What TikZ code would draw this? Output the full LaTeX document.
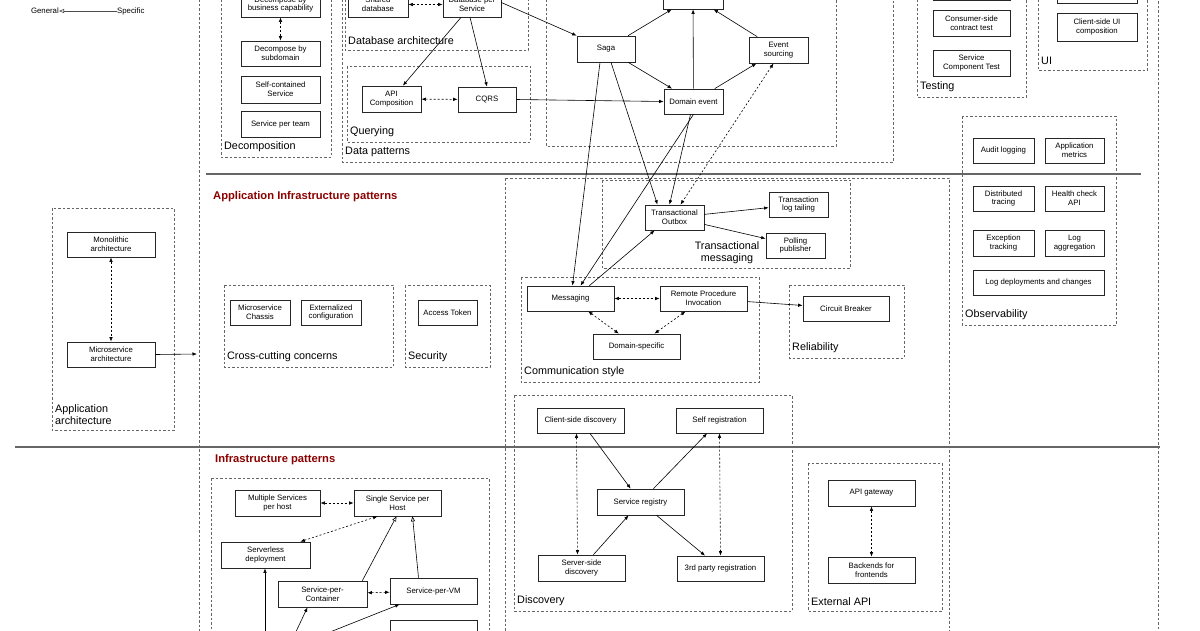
\documentclass[tikz,border=0pt]{standalone}
\usepackage{fontspec}
\setmainfont{Liberation Sans}
\usetikzlibrary{arrows.meta,shadows}
\newcommand\bx[6]{\node[box,minimum width={(#4-#2)*1pt},minimum height={(#5-#3)*1pt}] (#1) at ({(#2+#4)/2},{(#3+#5)/2}) {#6};}
\newcommand\frm[5]{\draw[frame] (#1,#2) rectangle (#3,#4);\node[flab] at (#1+2,#4-4) {#5};}
\begin{document}
\begin{tikzpicture}[x=1pt,y=-1pt,
  box/.style={draw=black!85,fill=white,line width=0.7pt,inner sep=1pt,align=center,font=\fontsize{7.8}{8.8}\selectfont,drop shadow={shadow xshift=0.9pt,shadow yshift=-0.9pt,opacity=0.35}},
  frame/.style={draw=black!60,dash pattern=on 2.5pt off 2pt,line width=0.6pt},
  flab/.style={anchor=south west,align=left,inner sep=1pt,font=\fontsize{10.8}{11.8}\selectfont},
  ttl/.style={anchor=west,inner sep=0pt,font=\bfseries\fontsize{11.2}{12}\selectfont,text=red!55!black},
  a/.style={-{Latex[length=4.5pt,width=3.5pt]},line width=0.6pt},
  da/.style={{Latex[length=4.5pt,width=3.5pt]}-{Latex[length=4.5pt,width=3.5pt]},dash pattern=on 2pt off 2pt,line width=0.6pt},
  oa/.style={-{Triangle[open,length=5pt,width=4pt]},line width=0.6pt}]
\useasboundingbox (0,0) rectangle (1200,630);
\fill[white] (0,0) rectangle (1200,630);
% separators
\draw[black!60,line width=1.3pt] (206,174) -- (1141,174);
\draw[black!60,line width=1.3pt] (15,447) -- (1160,447);
% legend
\node[inner sep=0,font=\fontsize{7.8}{8}\selectfont,anchor=east] (gen) at (59,11) {General};
\node[inner sep=0,font=\fontsize{7.8}{8}\selectfont,anchor=west] (spe) at (117,11) {Specific};
\draw[oa,black!70] (spe.west) -- (gen.east);
% big frames
\draw[frame] (199,-10) rectangle (1158,640);
\frm{221}{-10}{331}{157}{Decomposition}
\frm{342}{-10}{893}{162}{Data patterns}
\frm{345}{-10}{528}{50}{Database architecture}
\frm{347}{66}{530}{142}{Querying}
\draw[frame] (546,-10) rectangle (836,146);
\frm{917}{-10}{1026}{97}{Testing}
\frm{1038}{-10}{1147}{70}{UI}
\frm{962}{116}{1116}{325}{Observability}
\frm{52}{208}{174}{430}{Application\\architecture}
\frm{224}{285}{393}{367}{Cross-cutting concerns}
\frm{405}{285}{490}{367}{Security}
\draw[frame] (505,178) rectangle (949,640);
\draw[frame] (602,180) rectangle (850,268);
\node[anchor=center,align=center,inner sep=0,font=\fontsize{10.8}{12}\selectfont] at (727,253) {Transactional\\messaging};
\frm{521}{277}{759}{382}{Communication style}
\frm{789}{285}{904}{358}{Reliability}
\frm{514}{395}{792}{611}{Discovery}
\frm{808}{463}{942}{611}{External API}
\draw[frame] (211,478) rectangle (489,640);
% titles
\node[ttl] at (213,197) {Application Infrastructure patterns};
\node[ttl] at (215,460) {Infrastructure patterns};
% boxes
\bx{dbc}{241}{-8}{320}{17}{Decompose by\\business capability}
\bx{dsd}{241}{41}{320}{66}{Decompose by\\subdomain}
\bx{scs}{241}{76}{320}{103}{Self-contained\\Service}
\bx{spt}{241}{111}{320}{137}{Service per team}
\bx{shd}{348}{-8}{408}{17}{Shared\\database}
\bx{dps}{443}{-8}{501}{17}{Database per\\Service}
\bx{apic}{362}{86}{421}{112}{API\\Composition}
\bx{cqrs}{458}{87}{516}{112}{CQRS}
\bx{saga}{577}{36}{635}{62}{Saga}
\bx{agg}{663}{-16}{723}{9}{Aggregate}
\bx{evs}{749}{37}{808}{63}{Event\\sourcing}
\bx{dev}{664}{89}{723}{114}{Domain event}
\bx{tst}{933}{-16}{1010}{0}{}
\bx{cct}{933}{10}{1010}{36}{Consumer-side\\contract test}
\bx{sct}{933}{50}{1010}{76}{Service\\Component Test}
\bx{uit}{1057}{-16}{1137}{3}{}
\bx{cui}{1057}{13}{1137}{41}{Client-side  UI\\composition}
\bx{aud}{973}{138}{1034}{163}{Audit logging}
\bx{amt}{1045}{138}{1104}{163}{Application\\metrics}
\bx{dtr}{973}{186}{1034}{211}{Distributed\\tracing}
\bx{hca}{1045}{186}{1104}{211}{Health check\\API}
\bx{ext}{973}{230}{1034}{256}{Exception\\tracking}
\bx{lag}{1045}{230}{1104}{256}{Log\\aggregation}
\bx{ldc}{973}{270}{1104}{295}{Log deployments and changes}
\bx{mono}{67}{232}{155}{257}{Monolithic\\architecture}
\bx{msa}{67}{342}{155}{367}{Microservice\\architecture}
\bx{chs}{230}{300}{290}{325}{Microservice\\Chassis}
\bx{exc}{301}{300}{361}{325}{Externalized\\configuration}
\bx{atk}{418}{300}{477}{325}{Access Token}
\bx{tob}{645}{205}{704}{230}{Transactional\\Outbox}
\bx{tlt}{769}{192}{828}{217}{Transaction\\log tailing}
\bx{ppb}{766}{233}{825}{258}{Polling\\publisher}
\bx{msg}{527}{286}{614}{311}{Messaging}
\bx{rpi}{660}{286}{747}{311}{Remote Procedure\\Invocation}
\bx{dsp}{593}{334}{680}{359}{Domain-specific}
\bx{cbr}{803}{296}{889}{321}{Circuit Breaker}
\bx{csd}{537}{408}{624}{433}{Client-side discovery}
\bx{slf}{676}{408}{763}{433}{Self registration}
\bx{srg}{597}{489}{684}{515}{Service registry}
\bx{ssd}{538}{555}{625}{581}{Server-side\\discovery}
\bx{tpr}{677}{556}{764}{581}{3rd party registration}
\bx{apg}{828}{480}{915}{506}{API gateway}
\bx{bff}{828}{557}{915}{583}{Backends for\\frontends}
\bx{msh}{235}{490}{320}{516}{Multiple Services\\per host}
\bx{ssh}{354}{490}{441}{516}{Single Service per\\Host}
\bx{svl}{221}{542}{310}{568}{Serverless\\deployment}
\bx{spc}{278}{581}{367}{607}{Service-per-\\Container}
\bx{svm}{390}{578}{477}{604}{Service-per-VM}
\bx{low}{390}{620}{477}{645}{}
\coordinate (b1) at (265,640);
\coordinate (b2) at (292,640);
\coordinate (b3) at (330,632);
% connectors
\draw[da] (dbc) -- (dsd);
\draw[da] (shd) -- (dps);
\draw[a] (dps) -- (apic);
\draw[a] (dps.south) ++(-2,0) -- (cqrs.north);
\draw[a] (dps.east) ++(0,-2) -- (saga.north west);
\draw[da] (apic) -- (cqrs);
\draw[a] (cqrs.east) -- (dev.west);
\draw[a] (saga) -- (agg);
\draw[a] (dev) -- (agg);
\draw[a] (evs) -- (agg);
\draw[a] (dev) -- (evs);
\draw[a] (saga) -- (dev);
\draw[a] (saga.south) ++(-6,0) -- ([xshift=2pt]msg.north);
\draw[a] (saga.south) ++(5,0) -- ([xshift=-17pt]tob.north);
\draw[a] (dev.south) -- ([xshift=10pt]msg.north);
\draw[a] (dev.south) ++(-3,0) -- ([xshift=-5pt]tob.north);
\draw[da] (evs.south) ++(-5,0) -- ([xshift=6pt]tob.north);
\draw[a] ([xshift=-25pt]msg.north east) -- ([xshift=10pt]tob.south west);
\draw[a] (tob) -- (tlt);
\draw[a] (tob) -- (ppb);
\draw[da] (msg) -- (rpi);
\draw[da] (msg) -- (dsp);
\draw[da] (rpi) -- (dsp);
\draw[a] (rpi) -- (cbr);
\draw[da] (mono) -- (msa);
\draw[a] (msa.east) -- (197,354);
\draw[a] (csd) -- (srg);
\draw[a] (ssd) -- (srg);
\draw[a] (srg) -- (slf);
\draw[a] (srg) -- (tpr);
\draw[da] ([xshift=-4pt]csd.south) -- ([xshift=-4pt]ssd.north);
\draw[da] ([xshift=0pt]slf.south) -- ([xshift=0pt]tpr.north);
\draw[da] (apg) -- (bff);
\draw[da] (msh) -- (ssh);
\draw[da] (svl.north east) ++(-10,0) -- ([xshift=-20pt]ssh.south);
\draw[oa] ([xshift=-5pt]spc.north east) -- ([xshift=-1pt]ssh.south);
\draw[oa] ([xshift=-15pt]svm.north) -- ([xshift=15pt]ssh.south);
\draw[da] (spc) -- (svm);
\draw[a] (b1) -- (b1 |- svl.south);
\draw[a] (b2) -- ([xshift=-15pt]spc.south);
\draw[a] (b3) -- ([xshift=10pt]svm.south west);
\end{tikzpicture}
\end{document}
